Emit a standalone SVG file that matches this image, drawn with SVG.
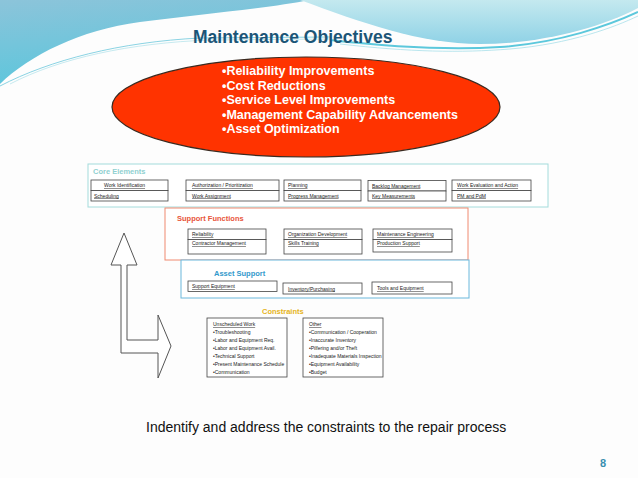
<svg xmlns="http://www.w3.org/2000/svg" width="638" height="478" viewBox="0 0 638 478">
<defs>
<linearGradient id="gL" x1="0" y1="0" x2="0.3" y2="1">
<stop offset="0" stop-color="#8cc4da"/>
<stop offset="1" stop-color="#5cc6dc"/>
</linearGradient>
<linearGradient id="gR" x1="0" y1="0" x2="0" y2="1">
<stop offset="0" stop-color="#c4e9ef"/>
<stop offset="1" stop-color="#8fd2e6"/>
</linearGradient>
<style>
.bx{fill:#fff;stroke:#444;stroke-width:0.8}
.t{font-family:"Liberation Sans",Arial,sans-serif;font-size:5px;fill:#222}
.u{text-decoration:underline}
.lbl{font-family:"Liberation Sans",Arial,sans-serif;font-size:7.5px;font-weight:bold}
.obj{font-family:"Liberation Sans",Arial,sans-serif;font-size:12.5px;font-weight:bold;fill:#fff}
</style>
</defs>
<rect width="638" height="478" fill="#fdfdfd"/>
<g id="background">
<path d="M0,0 L310,0 C270,8 200,14 140,22 C80,30 30,55 0,84 Z" fill="url(#gL)"/>
<path d="M300,0 L638,0 L638,8 C600,28 540,44 480,44 C420,44 360,22 300,0 Z" fill="url(#gR)"/>
<path d="M0,86 C50,60 120,42 200,38 L330,37" fill="none" stroke="#6cc8dc" stroke-width="0.8"/>
<path d="M10,84 C60,58 130,43 210,40 L330,39" fill="none" stroke="#9fdbe6" stroke-width="0.6"/>
<path d="M330,40 C400,48 450,50 500,47 C560,43 610,25 638,12" fill="none" stroke="#5cc8dc" stroke-width="2"/>
<path d="M340,44 C410,52 460,53 510,49 C570,44 615,27 638,16" fill="none" stroke="#a8e0ea" stroke-width="0.8"/>
</g>
<text x="193" y="43" font-family="Liberation Sans,Arial,sans-serif" font-size="17.5" font-weight="bold" fill="#1b5577">Maintenance Objectives</text>
<g id="objectives">
<ellipse cx="306" cy="107" rx="194" ry="50" fill="#ff3300" stroke="#3a2a20" stroke-width="1.2"/>
<text class="obj" x="222" y="75">•Reliability Improvements</text>
<text class="obj" x="222" y="89.5">•Cost Reductions</text>
<text class="obj" x="222" y="104">•Service Level Improvements</text>
<text class="obj" x="222" y="118.5">•Management Capability Advancements</text>
<text class="obj" x="222" y="133">•Asset Optimization</text>
</g>
<g id="core-elements">
<rect x="88" y="164" width="460" height="43" fill="#fff" stroke="#a4dcdc" stroke-width="1"/>
<text class="lbl" x="93" y="174" fill="#8fd0d0">Core Elements</text>
<rect class="bx" x="91" y="180" width="77" height="10.5"/>
<rect class="bx" x="91" y="190.5" width="77" height="10.5"/>
<text class="t u" x="104" y="187">Work Identification</text>
<text class="t u" x="94" y="197.5">Scheduling</text>
<rect class="bx" x="186" y="180" width="93" height="10.5"/>
<rect class="bx" x="186" y="190.5" width="93" height="10.5"/>
<text class="t u" x="192" y="187">Authorization / Prioritization</text>
<text class="t u" x="192" y="197.5">Work Assignment</text>
<rect class="bx" x="284" y="180" width="77" height="10.5"/>
<rect class="bx" x="284" y="190.5" width="77" height="10.5"/>
<text class="t u" x="288" y="187">Planning</text>
<text class="t u" x="288" y="197.5">Progress Management</text>
<rect class="bx" x="368" y="180.5" width="78" height="10.5"/>
<rect class="bx" x="368" y="191" width="78" height="10"/>
<text class="t u" x="372" y="187.5">Backlog Management</text>
<text class="t u" x="372" y="197.5">Key Measurements</text>
<rect class="bx" x="452" y="180" width="79" height="10.5"/>
<rect class="bx" x="452" y="190.5" width="79" height="10.5"/>
<text class="t u" x="457" y="187">Work Evaluation and Action</text>
<text class="t u" x="457" y="197.5">PM and PdM</text>
</g>
<g id="support-functions">
<rect x="165" y="208" width="303" height="52" fill="#fff" stroke="#f08a70" stroke-width="1"/>
<text class="lbl" x="177" y="221" fill="#e8553a">Support Functions</text>
<rect class="bx" x="188" y="229" width="78" height="10.5"/>
<rect class="bx" x="188" y="239.5" width="78" height="14.5"/>
<text class="t u" x="192" y="236">Reliability</text>
<text class="t u" x="192" y="245">Contractor Management</text>
<rect class="bx" x="284" y="229" width="78" height="10.5"/>
<rect class="bx" x="284" y="239.5" width="78" height="14.5"/>
<text class="t u" x="288" y="236">Organization Development</text>
<text class="t u" x="288" y="245">Skills Training</text>
<rect class="bx" x="373" y="229" width="79" height="10.5"/>
<rect class="bx" x="373" y="239.5" width="79" height="12.5"/>
<text class="t u" x="377" y="236">Maintenance Engineering</text>
<text class="t u" x="377" y="245">Production Support</text>
</g>
<g id="asset-support">
<rect x="181" y="260" width="288" height="38" fill="#fff" stroke="#6ab8dc" stroke-width="1"/>
<text class="lbl" x="214" y="276" fill="#3399cc">Asset Support</text>
<rect class="bx" x="188" y="281" width="89" height="10.5"/>
<text class="t u" x="192" y="288">Support Equipment</text>
<rect class="bx" x="283" y="283" width="79" height="11"/>
<text class="t u" x="288" y="290.5">Inventory/Purchasing</text>
<rect class="bx" x="372" y="282" width="80" height="12"/>
<text class="t u" x="377" y="290">Tools and Equipment</text>
</g>
<g id="constraints">
<text class="lbl" x="262" y="314" fill="#e6b422">Constraints</text>
<rect class="bx" x="207" y="318" width="80" height="59"/>
<text class="t u" x="213" y="326">Unscheduled Work</text>
<text class="t" x="213" y="334">•Troubleshooting</text>
<text class="t" x="213" y="342">•Labor and Equipment Req.</text>
<text class="t" x="213" y="350">•Labor and Equipment Avail.</text>
<text class="t" x="213" y="358">•Technical Support</text>
<text class="t" x="213" y="366">•Present Maintenance Schedule</text>
<text class="t" x="213" y="374">•Communication</text>
<rect class="bx" x="303" y="318" width="80" height="59"/>
<text class="t u" x="309" y="326">Other</text>
<text class="t" x="309" y="334">•Communication / Cooperation</text>
<text class="t" x="309" y="342">•Inaccurate Inventory</text>
<text class="t" x="309" y="350">•Pilfering and/or Theft</text>
<text class="t" x="309" y="358">•Inadequate Materials Inspection</text>
<text class="t" x="309" y="366">•Equipment Availability</text>
<text class="t" x="309" y="374">•Budget</text>
</g>
<g id="connectors">
<polygon points="124,233 137,265 127,265 127,340 158,340 158,315 171,346 158,378 158,353 121,353 121,265 111,265" fill="#fff" stroke="#555" stroke-width="1"/>
</g>
<text x="146" y="432" font-family="Liberation Sans,Arial,sans-serif" font-size="14" fill="#111">Indentify and address the constraints to the repair process</text>
<text x="600" y="467" font-family="Liberation Sans,Arial,sans-serif" font-size="11" font-weight="bold" fill="#3a8fb0">8</text>
</svg>
